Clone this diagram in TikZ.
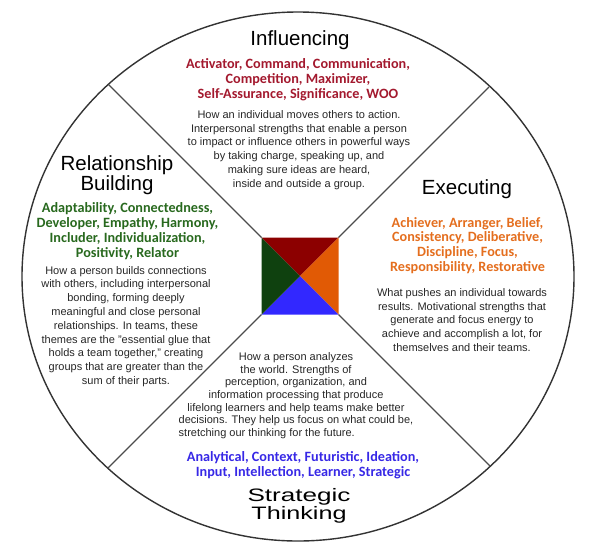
\documentclass[tikz,border=0pt]{standalone}
\usepackage{fontspec}
\usepackage{calc}
\setmainfont{Liberation Sans}
\newfontfamily\themefont{Carlito}
\usetikzlibrary{positioning}

\definecolor{infred}{RGB}{163,25,46}
\definecolor{relgreen}{RGB}{40,105,30}
\definecolor{exeorange}{RGB}{228,110,30}
\definecolor{strblue}{RGB}{55,40,230}
\definecolor{sqred}{RGB}{140,0,0}
\definecolor{sqorange}{RGB}{225,90,5}
\definecolor{sqblue}{RGB}{50,40,255}
\definecolor{sqgreen}{RGB}{15,65,15}

\tikzset{
  domtitle/.style={font=\fontsize{20.5}{20.5}\selectfont, align=center, inner sep=0pt},
  themelist/.style={font=\themefont\bfseries\fontsize{14.2}{14.9}\selectfont, align=center, inner sep=0pt},
  domdesc/.style={font=\fontsize{11}{13.8}\selectfont, align=center, text=black!85, inner sep=0pt},
  divider/.style={line width=1.1pt, black!70},
}

\begin{document}
\begin{tikzpicture}[x=1pt,y=-1pt]
\useasboundingbox (0,0) rectangle (596,552);
% wheel
\draw[line width=1.4pt, black!80] (298,276.5) ellipse [x radius=276, y radius=264.5];

% centre square and dividers
\coordinate (mid) at (300,276);
\coordinate (tl) at (261.5,237.5);
\coordinate (tr) at (338.5,237.5);
\coordinate (br) at (338.5,314.5);
\coordinate (bl) at (261.5,314.5);
\coordinate (otl) at (108.5,84.5);
\coordinate (otr) at (489,87);
\coordinate (obr) at (490,466);
\coordinate (obl) at (107.7,468.3);
\foreach \c in {tl,tr,br,bl}
  \draw[divider] (\c) -- (o\c);
\fill[sqred] (tl) -- (tr) -- (mid) -- cycle;
\fill[sqorange] (tr) -- (br) -- (mid) -- cycle;
\fill[sqblue] (br) -- (bl) -- (mid) -- cycle;
\fill[sqgreen] (bl) -- (tl) -- (mid) -- cycle;

% Influencing
\node[domtitle] (inftitle) at (300,40) {Influencing};
\node[themelist, text=infred] (infthemes) at (298,80) {Activator, Command, Communication,\\Competition, Maximizer,\\Self-Assurance, Significance, WOO};
\node[domdesc] (infdesc) at (299,150) {How an individual moves others to action.\\Interpersonal strengths that enable a person\\to impact or influence others in powerful ways\\by taking charge, speaking up, and\\making sure ideas are heard,\\inside and outside a group.};

% Relationship Building
\node[domtitle] (reltitle) at (117,175) {Relationship\\Building};
\node[themelist, text=relgreen] (relthemes) at (127.5,231) {Adaptability, Connectedness,\\Developer, Empathy, Harmony,\\Includer, Individualization,\\Positivity, Relator};
\node[domdesc] (reldesc) at (126,326.5) {How a person builds connections\\with others, including interpersonal\\bonding, forming deeply\\meaningful and close personal\\relationships. In teams, these\\themes are the "essential glue that\\holds a team together," creating\\groups that are greater than the\\sum of their parts.};

% Executing
\node[domtitle] (exetitle) at (467,189) {Executing};
\node[themelist, text=exeorange] (exethemes) at (467.5,245.5) {Achiever, Arranger, Belief,\\Consistency, Deliberative,\\Discipline, Focus,\\Responsibility, Restorative};
\node[domdesc] (exedesc) at (462,320) {What pushes an individual towards\\results. Motivational strengths that\\generate and focus energy to\\achieve and accomplish a lot, for\\themselves and their teams.};

% Strategic Thinking
\node[domdesc, font=\fontsize{11}{12.6}\selectfont] (strdesc) at (296,395.7) {How a person analyzes\\the world. Strengths of\\perception, organization, and\\information processing that produce\\lifelong learners and help teams make better\\decisions. They help us focus on what could be,\\\makebox[\widthof{decisions. They help us focus on what could be,}][l]{stretching our thinking for the future.}};
\node[themelist, text=strblue] (strthemes) at (303,465.5) {Analytical, Context, Futuristic, Ideation,\\Input, Intellection, Learner, Strategic};
\node[domtitle, font=\fontsize{18}{18}\selectfont] (strtitle) at (299,506) {\scalebox{1.45}[1]{Strategic}\\\scalebox{1.4}[1]{Thinking}};
\end{tikzpicture}
\end{document}
